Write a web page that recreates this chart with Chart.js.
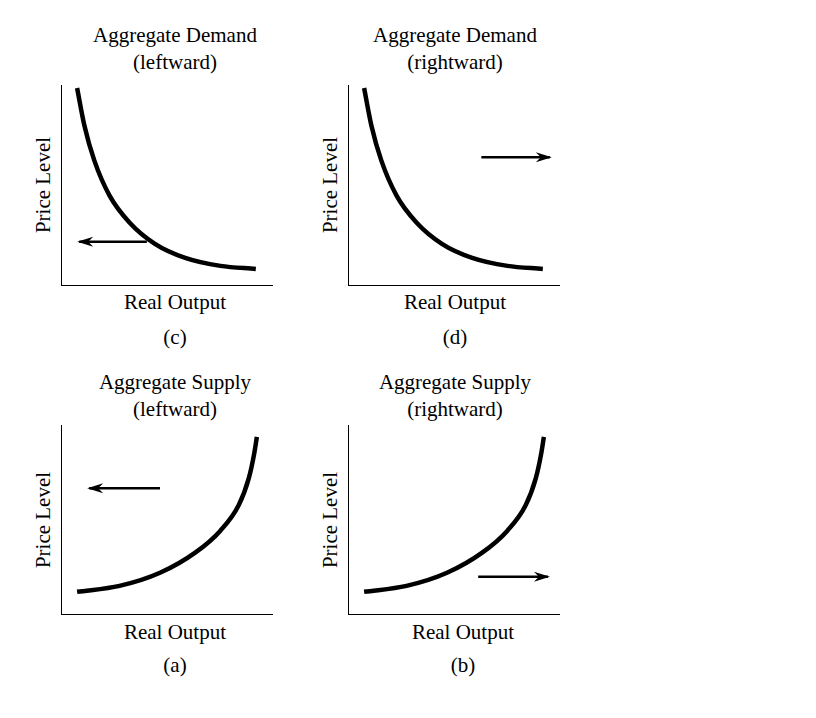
<!DOCTYPE html>
<html><head><meta charset="utf-8">
<script src="https://cdn.jsdelivr.net/npm/chart.js@4/dist/chart.umd.min.js"></script>
<style>
body{margin:0;background:#fff;width:816px;height:718px;position:relative;overflow:hidden;font-family:"Liberation Serif","DejaVu Serif",serif;color:#000}
.t{position:absolute;font-size:21px;white-space:nowrap;transform:translate(-50%,-50%)}
.r{transform:translate(-50%,-50%) rotate(-90deg)}
.c{position:absolute}
</style></head><body>
<div class="t" style="left:175px;top:35px">Aggregate Demand</div>
<div class="t" style="left:175px;top:62px">(leftward)</div>
<div class="t" style="left:455px;top:35px">Aggregate Demand</div>
<div class="t" style="left:455px;top:62px">(rightward)</div>
<div class="t" style="left:175px;top:382px">Aggregate Supply</div>
<div class="t" style="left:175px;top:409px">(leftward)</div>
<div class="t" style="left:455px;top:382px">Aggregate Supply</div>
<div class="t" style="left:455px;top:409px">(rightward)</div>
<div class="t r" style="left:43px;top:185px">Price Level</div>
<div class="t r" style="left:330px;top:185px">Price Level</div>
<div class="t r" style="left:43px;top:520px">Price Level</div>
<div class="t r" style="left:330px;top:520px">Price Level</div>
<div class="t" style="left:175px;top:302px">Real Output</div>
<div class="t" style="left:455px;top:302px">Real Output</div>
<div class="t" style="left:175px;top:632px">Real Output</div>
<div class="t" style="left:463px;top:632px">Real Output</div>
<div class="t" style="left:175px;top:337px">(c)</div>
<div class="t" style="left:455px;top:337px">(d)</div>
<div class="t" style="left:175px;top:665px">(a)</div>
<div class="t" style="left:463px;top:665px">(b)</div>
<canvas id="c1" class="c"></canvas><canvas id="c2" class="c"></canvas>
<canvas id="c3" class="c"></canvas><canvas id="c4" class="c"></canvas>
<script>
const demandX=[7.6,11,15.7,22.9,32.4,44.3,58.6,75.2,91.9];
const demandY=[98.5,80,62.5,45,31.5,21,14,10,8.5];
const supplyX=[7.6,27.6,46.7,63.3,75.2,83.8,88.6,91,92.4];
const supplyY=[12.2,15.3,22.2,32.8,44.4,57.7,72,84.1,93.7];
const arrowC=[[40.5,22],[8.6,22]];
const arrowD=[[62.9,64],[95.2,64]];
const arrowA=[[46.7,66.7],[13.3,66.7]];
const arrowB=[[61.4,20.1],[94.3,20.1]];

const arrowHead={id:'ah',afterDatasetsDraw(ch){
  const ds=ch.data.datasets[1].data, x=ch.scales.x, y=ch.scales.y, c=ch.ctx;
  const p0=[x.getPixelForValue(ds[0].x),y.getPixelForValue(ds[0].y)];
  const p1=[x.getPixelForValue(ds[1].x),y.getPixelForValue(ds[1].y)];
  const a=Math.atan2(p1[1]-p0[1],p1[0]-p0[0]);
  c.save();c.fillStyle='#000';c.beginPath();
  c.moveTo(p1[0]+2*Math.cos(a),p1[1]+2*Math.sin(a));
  c.lineTo(p1[0]-14*Math.cos(a)+5*Math.sin(a),p1[1]-14*Math.sin(a)-5*Math.cos(a));
  c.lineTo(p1[0]-9*Math.cos(a),p1[1]-9*Math.sin(a));
  c.lineTo(p1[0]-14*Math.cos(a)-5*Math.sin(a),p1[1]-14*Math.sin(a)+5*Math.cos(a));
  c.closePath();c.fill();c.restore();}};

function make(id,left,top,w,h,xs,ys,arrow){
  const cv=document.getElementById(id);
  cv.style.left=left+'px';cv.style.top=top+'px';cv.style.width=w+'px';cv.style.height=h+'px';
  cv.width=w;cv.height=h;
  const ax={display:true,grid:{display:false,drawTicks:false},ticks:{display:false},border:{display:true,color:'#000',width:2},min:0,max:100};
  new Chart(cv,{type:'line',data:{datasets:[
    {data:xs.map((v,i)=>({x:v,y:ys[i]})),borderColor:'#000',borderWidth:4.5,pointRadius:0,cubicInterpolationMode:'monotone'},
    {data:arrow.map(p=>({x:p[0],y:p[1]})),borderColor:'#000',borderWidth:2.5,pointRadius:0}
  ]},options:{responsive:false,animation:false,layout:{padding:0},
    plugins:{legend:{display:false},tooltip:{enabled:false}},
    scales:{x:{type:'linear',...ax},y:{type:'linear',...ax}}},plugins:[arrowHead]});
}
make('c1',61,85,212,201,demandX,demandY,arrowC);
make('c2',348,85,212,201,demandX,demandY,arrowD);
make('c3',61,425,212,190,supplyX,supplyY,arrowA);
make('c4',348,425,212,190,supplyX,supplyY,arrowB);
</script></body></html>
